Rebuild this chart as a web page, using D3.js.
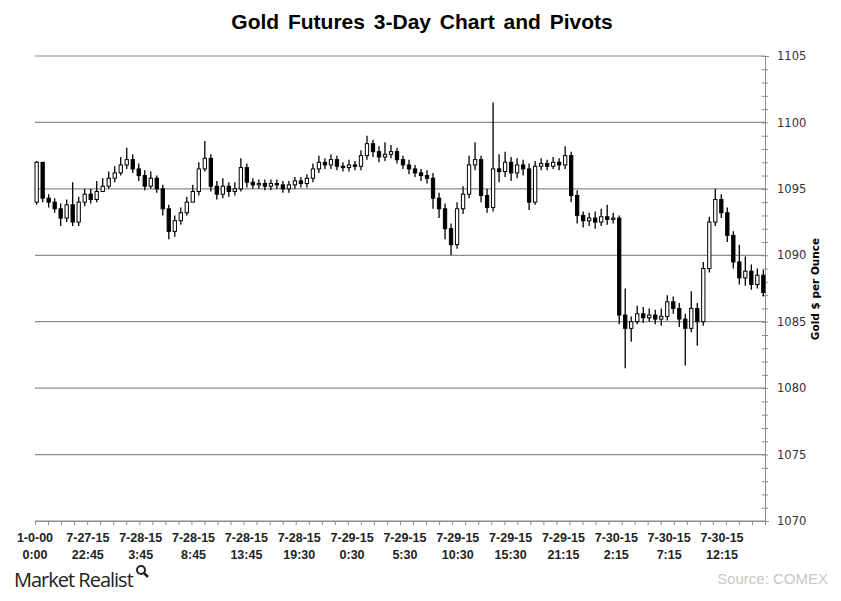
<!DOCTYPE html>
<html><head><meta charset="utf-8">
<script src="https://cdn.jsdelivr.net/npm/d3@7"></script>
<style>body{margin:0;background:#fff}</style>
</head><body><svg id="c" width="841" height="601" font-family="DejaVu Sans, Verdana, sans-serif"></svg>
<script>
const xLabels=[["1-0-00","0:00"],["7-27-15","22:45"],["7-28-15","3:45"],["7-28-15","8:45"],["7-28-15","13:45"],["7-28-15","19:30"],["7-29-15","0:30"],["7-29-15","5:30"],["7-29-15","10:30"],["7-29-15","15:30"],["7-29-15","21:15"],["7-30-15","2:15"],["7-30-15","7:15"],["7-30-15","12:15"]];
const yTicks=[1070,1075,1080,1085,1090,1095,1100,1105];
const closes=[1097,1094.3,1094,1093.5,1092.8,1093.8,1092.5,1094,1094.6,1094.2,1094.8,1095.2,1095.8,1096.2,1096.8,1097.2,1096.5,1096,1095.2,1095.8,1095,1093.5,1091.8,1092.6,1093.2,1094,1094.8,1096.5,1097.3,1095.2,1094.6,1095.2,1094.8,1095,1096.6,1095.5,1095.3,1095.4,1095.2,1095.4,1095.3,1095,1095.3,1095.6,1095.4,1095.8,1096.5,1097,1096.8,1097.2,1096.7,1096.6,1096.8,1096.7,1097.5,1098.4,1097.8,1097.4,1097.6,1097.8,1097.2,1096.8,1096.5,1096.2,1096,1095.8,1094.3,1093.5,1092,1090.8,1093.5,1094.6,1096.8,1097.2,1094.5,1093.6,1096.5,1096.3,1097,1096.2,1096.8,1096.5,1094,1096.7,1096.9,1096.7,1097,1096.8,1097.5,1094.5,1093,1092.6,1092.8,1092.5,1092.9,1092.7,1092.8,1085.5,1084.5,1085,1085.6,1085.3,1085.5,1085.2,1085.4,1086.5,1086,1085.2,1084.5,1086,1085,1089,1092.5,1094.2,1093.2,1091.5,1089.5,1088.3,1088.8,1087.8,1088.5,1087.2];
const opens=[1094].concat(closes.slice(0,-1));
const highs=[1097.1,1097,1094.6,1094.3,1093.9,1094.2,1095.5,1094.4,1095,1095,1095.6,1095.8,1096.3,1096.7,1097.4,1098.1,1097.6,1096.9,1096.4,1096.3,1096,1095.3,1093.8,1093,1093.6,1094.4,1095.3,1097,1098.6,1097.6,1095.6,1095.8,1095.5,1095.5,1097.3,1096.9,1095.8,1095.7,1095.7,1095.7,1095.7,1095.6,1095.6,1095.9,1095.9,1096.1,1096.9,1097.5,1097.3,1097.6,1097.5,1097,1097.2,1097.1,1097.9,1099,1098.7,1098.2,1098.5,1098.3,1098.1,1097.5,1097.2,1096.8,1096.5,1096.4,1096.2,1094.7,1093.9,1092.4,1094,1095.2,1097.5,1098.5,1097.5,1095,1101.5,1097.6,1097.8,1097.4,1097.3,1097.2,1096.9,1097.1,1097.3,1097.2,1097.4,1097.3,1098.2,1097.8,1094.9,1093.3,1093.2,1093.3,1093.5,1093.8,1093.2,1093,1087.5,1085.4,1086.2,1086.1,1086,1085.9,1086,1087,1086.9,1086.4,1085.6,1087.3,1086.4,1089.5,1092.9,1095,1094.6,1093.6,1091.8,1090.8,1089.9,1089.3,1089,1088.9];
const lows=[1093.8,1094,1093.6,1093.2,1092.2,1092.5,1092.2,1092.2,1093.7,1093.9,1094,1094.8,1095,1095.5,1096,1096.5,1096.2,1095.6,1094.9,1095,1094.7,1093,1091.2,1091.4,1092.3,1093,1094.3,1094.5,1096.3,1094.8,1094.2,1094.3,1094.4,1094.5,1094.8,1095.1,1095,1095,1094.9,1094.9,1095,1094.7,1094.7,1095,1095.1,1095.1,1095.5,1096.2,1096.5,1096.5,1096.4,1096.3,1096.3,1096.4,1096.4,1097.2,1097.4,1097,1097.1,1097.3,1096.9,1096.5,1096.1,1095.9,1095.6,1095.4,1093.5,1092.8,1091.2,1090,1090.5,1093.1,1094.3,1096.4,1094,1093.2,1093.3,1095.5,1095.9,1095.6,1095.8,1096,1093.4,1093.8,1096.4,1096.4,1096.5,1096.4,1096.5,1094,1092.4,1092.1,1092.2,1092,1092.2,1092.3,1092.4,1084.8,1081.5,1083.5,1084.8,1084.9,1085,1084.8,1084.7,1085.1,1085.6,1084.6,1081.7,1084.2,1083.2,1084.7,1088.7,1092.2,1092.8,1091,1089,1087.8,1087.7,1087.4,1087.5,1086.9];

const svg=d3.select("#c");
const L=35,R=765,T=56,B=521;
const y=d3.scaleLinear().domain([1070,1105]).range([B,T]);
const x=d3.scaleBand().domain(d3.range(closes.length)).range([L,R]).paddingInner(0.45);
const xl=d3.scalePoint().domain(d3.range(xLabels.length)).range([35,722]);

svg.append("text").attr("x",422).attr("y",29).attr("text-anchor","middle").attr("font-size",21).attr("font-weight","bold").attr("font-family","Liberation Sans, Arial").attr("word-spacing","3").text("Gold Futures  3-Day Chart and Pivots");

svg.append("g").selectAll("line").data(yTicks).join("line").attr("x1",L).attr("x2",R).attr("y1",d=>y(d)).attr("y2",d=>y(d)).attr("stroke","#8c8c8c").attr("stroke-width",1.2);

const ra=svg.append("g").attr("transform",`translate(${R},0)`).call(d3.axisRight(y).tickValues(d3.range(1070,1106,1)).tickSize(4).tickFormat(d=>d%5===0?d:""));
ra.attr("font-family",null);
ra.select(".domain").attr("stroke","#8c8c8c");
ra.selectAll(".tick line").attr("stroke","#8c8c8c").attr("x1",-3).attr("x2",3);
ra.selectAll("text").attr("x",12).attr("font-size",11.5).attr("fill","#333");
svg.append("text").attr("transform","translate(819,289) rotate(-90)").attr("text-anchor","middle").attr("font-size",10.5).attr("font-weight","bold").text("Gold $ per Ounce");

const bs=d3.scaleLinear().domain([0,56]).range([35,765]);
const ba=svg.append("g").attr("transform",`translate(0,${B})`).call(d3.axisBottom(bs).tickValues(d3.range(0,57)).tickSize(4).tickFormat(""));
ba.select(".domain").attr("stroke","#8c8c8c");ba.selectAll("line").attr("stroke","#8c8c8c");
const lg=svg.append("g").selectAll("text").data(xLabels).join("text").attr("x",(d,i)=>xl(i)).attr("text-anchor","middle").attr("font-size",12.5).attr("font-weight","bold").attr("font-family","Liberation Sans, Arial").attr("fill","#222");
lg.append("tspan").attr("x",(d,i)=>xl(i)).attr("y",542).text(d=>d[0]);
lg.append("tspan").attr("x",(d,i)=>xl(i)).attr("y",559).text(d=>d[1]);

const g=svg.append("g");
const idx=d3.range(closes.length);
g.selectAll("line").data(idx).join("line").attr("x1",i=>x(i)+x.bandwidth()/2).attr("x2",i=>x(i)+x.bandwidth()/2).attr("y1",i=>y(highs[i])).attr("y2",i=>y(lows[i])).attr("stroke","#000").attr("stroke-width",1.3);
g.selectAll("rect").data(idx).join("rect").attr("x",i=>x(i)).attr("width",x.bandwidth()).attr("y",i=>y(Math.max(opens[i],closes[i]))).attr("height",i=>Math.max(1,Math.abs(y(opens[i])-y(closes[i])))).attr("fill",i=>closes[i]>=opens[i]?"#fff":"#000").attr("stroke","#000").attr("stroke-width",1);

svg.append("text").attr("x",14).attr("y",587).attr("font-size",20).attr("font-family","Open Sans, sans-serif").attr("fill","#222").attr("letter-spacing","-1").text("Market Realist");
svg.append("circle").attr("cx",141).attr("cy",570).attr("r",4).attr("fill","none").attr("stroke","#222").attr("stroke-width",2);
svg.append("line").attr("x1",144).attr("y1",573).attr("x2",148).attr("y2",577).attr("stroke","#222").attr("stroke-width",2.5);
svg.append("text").attr("x",828).attr("y",584).attr("text-anchor","end").attr("font-size",15).attr("fill","#c8c8c8").attr("font-family","Liberation Sans, Arial").text("Source:  COMEX");
</script></body></html>
